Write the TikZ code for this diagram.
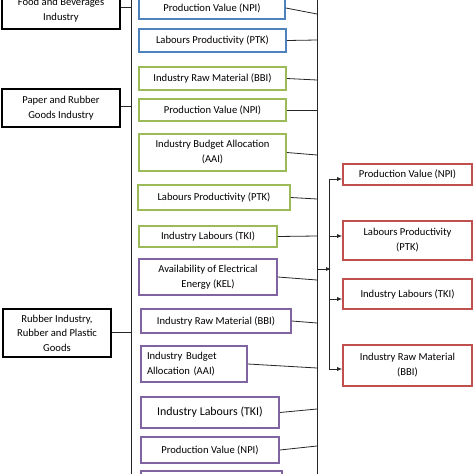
\documentclass[tikz,border=0pt]{standalone}
\usepackage{fontspec}
\setmainfont{Carlito}
\usetikzlibrary{arrows.meta}
\definecolor{cblue}{HTML}{4F81BD}
\definecolor{cgreen}{HTML}{9BBB59}
\definecolor{cpurple}{HTML}{8064A2}
\definecolor{cred}{HTML}{C0504D}
\tikzset{
  bx/.style={draw, line width=1.6pt, fill=white, inner sep=1pt, align=center, font=\fontsize{10.6}{15}\selectfont},
  blk/.style={bx, draw=black, line width=2.2pt, font=\fontsize{10.6}{14.5}\selectfont},
  bl/.style={bx, draw=cblue},
  gr/.style={bx, draw=cgreen},
  pu/.style={bx, draw=cpurple},
  rd/.style={bx, draw=cred},
  con/.style={draw=black!85, line width=0.8pt},
  arr/.style={con, -{Latex[length=5pt,width=4pt]}},
}
\begin{document}
\begin{tikzpicture}[x=1pt,y=-1pt]
\useasboundingbox (0,0) rectangle (474,474);
\clip (0,0) rectangle (474,474);
% left boxes
\node[blk, minimum width=118pt, minimum height=38pt] (A1) at (61,10) {Food and Beverages\\Industry};
\node[blk, minimum width=118pt, minimum height=38pt] (A2) at (61,108) {Paper and Rubber\\Goods Industry};
\node[blk, minimum width=108pt, minimum height=48pt] (A3) at (57,333) {Rubber Industry,\\Rubber and Plastic\\Goods};
% middle
\node[bl, minimum width=146pt, minimum height=22pt] (B1) at (212,8) {Production Value (NPI)};
\node[bl, minimum width=147pt, minimum height=23pt] (B2) at (212.5,40.5) {Labours Productivity (PTK)};
\node[gr, minimum width=147pt, minimum height=23pt] (G1) at (212.5,78.5) {Industry Raw Material (BBI)};
\node[gr, minimum width=147pt, minimum height=22pt] (G2) at (212.5,110) {Production Value (NPI)};
\node[gr, minimum width=147pt, minimum height=37pt] (G3) at (212.5,152.5) {Industry Budget Allocation\\(AAI)};
\node[gr, minimum width=152pt, minimum height=25pt] (G4) at (214,197.5) {Labours Productivity (PTK)};
\node[gr, minimum width=138pt, minimum height=21pt] (G5) at (208,236.5) {Industry Labours (TKI)};
\node[pu, minimum width=138pt, minimum height=36pt] (P1) at (208,277) {Availability of Electrical\\Energy (KEL)};
\node[pu, minimum width=150pt, minimum height=24pt] (P2) at (216,321) {Industry Raw Material (BBI)};
\node[pu, minimum width=106pt, minimum height=36pt, align=left, text width=94pt] (P3) at (194,364) {Industry Budget\\Allocation (AAI)};
\node[pu, minimum width=138pt, minimum height=31pt, font=\fontsize{11.9}{14}\selectfont] (P4) at (210,412.5) {Industry Labours (TKI)};
\node[pu, minimum width=138pt, minimum height=26pt] (P5) at (210,450) {Production Value (NPI)};
\node[pu, minimum width=141pt, minimum height=24pt] (P6) at (211.5,483) {};
% right
\node[rd, minimum width=129pt, minimum height=21pt] (R1) at (407.5,174.5) {Production Value (NPI)};
\node[rd, minimum width=129pt, minimum height=39pt] (R2) at (407.5,240.5) {Labours Productivity\\(PTK)};
\node[rd, minimum width=129pt, minimum height=30pt] (R3) at (407.5,294) {Industry Labours (TKI)};
\node[rd, minimum width=129pt, minimum height=41pt] (R4) at (407.5,365.5) {Industry Raw Material\\(BBI)};
% left bus
\coordinate (LT) at (131,0);
\coordinate (LB) at (131,474);
\draw[con] (LT) -- (LB);
\coordinate (la1) at (131,7);
\coordinate (la2) at (131,106);
\coordinate (la3) at (131,332);
\draw[con] (A1.east |- la1) -- (la1);
\draw[con] (A2.east |- la2) -- (la2);
\draw[con] (A3.east |- la3) -- (la3);
% right bus
\coordinate (RT) at (317,0);
\coordinate (RB) at (317,474);
\draw[con] (RT) -- (RB);
\coordinate (b1) at (317,14);
\coordinate (b2) at (317,40);
\coordinate (b3) at (317,80);
\coordinate (b4) at (317,110);
\coordinate (b5) at (317,155);
\coordinate (b6) at (317,199);
\coordinate (b7) at (317,236);
\coordinate (b8) at (317,280);
\coordinate (b9) at (317,323);
\coordinate (b10) at (317,368);
\coordinate (b11) at (317,409);
\coordinate (b12) at (317,446);
\draw[con] (B1.east) -- (b1);
\draw[con] (B2.east) -- (b2);
\draw[con] (G1.east) -- (b3);
\draw[con] (G2.east) -- (b4);
\draw[con] (G3.east) -- (b5);
\draw[con] (G4.east) -- (b6);
\draw[con] (G5.east) -- (b7);
\draw[con] (P1.east) -- (b8);
\draw[con] (P2.east) -- (b9);
\draw[con] (P3.east) -- (b10);
\draw[con] (P4.east) -- (b11);
\draw[con] (P5.east) -- (b12);
% hub
\coordinate (h0) at (317,269);
\coordinate (h1) at (331,269);
\draw[arr] (h0) -- (h1);
\coordinate (vt) at (329,179);
\coordinate (vb) at (329,369);
\draw[con] (vt) -- (vb);
\coordinate (v2) at (329,236);
\coordinate (v3) at (329,299);
\draw[arr] (vt) -- (R1.west |- vt);
\draw[arr] (v2) -- (R2.west |- v2);
\draw[arr] (v3) -- (R3.west |- v3);
\draw[arr] (vb) -- (R4.west |- vb);
\end{tikzpicture}
\end{document}
